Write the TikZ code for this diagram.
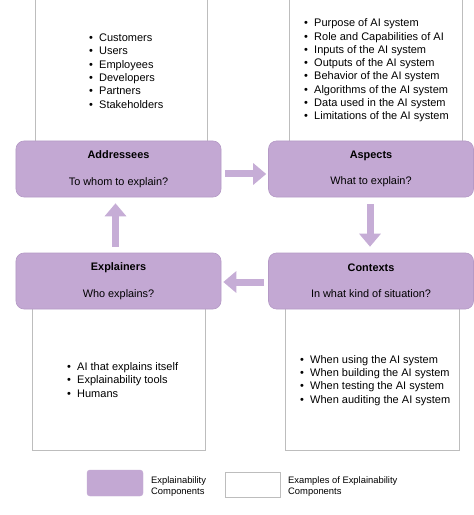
\documentclass[tikz,border=0pt]{standalone}
\usepackage{fontspec}
\setmainfont{Liberation Sans}
\usetikzlibrary{arrows.meta,calc}
\definecolor{compfill}{HTML}{C3A8D3}
\definecolor{compedge}{HTML}{B59AC6}
\definecolor{arrcol}{HTML}{C6ADD6}
\definecolor{exedge}{HTML}{BDBDBD}
\newcommand{\bl}[1]{\makebox[10bp][l]{\textbullet}#1}
\begin{document}
\begin{tikzpicture}[x=1bp,y=-1bp,
  compbox/.style={draw=compedge, fill=compfill, rounded corners=8bp, line width=0.6bp,
    minimum width=205bp, minimum height=56bp, inner sep=0pt, align=center,
    font=\fontsize{10.9bp}{13bp}\selectfont},
  exbox/.style={draw=exedge, fill=white, line width=0.9bp, inner sep=0pt},
  listtext/.style={anchor=west, inner sep=0pt, align=left,
    font=\fontsize{11bp}{13.3bp}\selectfont},
  legtext/.style={anchor=west, inner sep=0pt, align=left,
    font=\fontsize{9.4bp}{11.3bp}\selectfont},
  bigarrow/.style={draw=arrcol, line width=7bp, -{Triangle[length=13bp,width=21bp]}}]
\useasboundingbox (0,0) rectangle (474,515);
\fill[white] (0,0) rectangle (474,515);
% example boxes
\node[exbox, minimum width=172bp, minimum height=156bp] (exaddr) at (121,72) {};
\node[exbox, minimum width=173bp, minimum height=156bp] (exasp) at (375.5,72) {};
\node[exbox, minimum width=173bp, minimum height=160bp] (exexpl) at (118.5,370) {};
\node[exbox, minimum width=174bp, minimum height=160bp] (exctx) at (372,370) {};
% component boxes
\node[compbox] (addr) at (118.5,169) {\textbf{Addressees}\\[13.4bp]To whom to explain?};
\node[compbox] (asp) at (371,169) {\textbf{Aspects}\\[13.4bp]What to explain?};
\node[compbox] (expl) at (118.5,281) {\textbf{Explainers}\\[13.4bp]Who explains?};
\node[compbox] (ctx) at (371,281) {\textbf{Contexts}\\[13.4bp]In what kind of situation?};
% lists
\node[listtext] (addrlist) at (89,71) {\bl{Customers}\\\bl{Users}\\\bl{Employees}\\\bl{Developers}\\\bl{Partners}\\\bl{Stakeholders}};
\node[listtext] (asplist) at (304,70.5) {\bl{Purpose of AI system}\\\bl{Role and Capabilities of AI}\\\bl{Inputs of the AI system}\\\bl{Outputs of the AI system}\\\bl{Behavior of the AI system}\\\bl{Algorithms of the AI system}\\\bl{Data used in the AI system}\\\bl{Limitations of the AI system}};
\node[listtext] (expllist) at (67,380) {\bl{AI that explains itself}\\\bl{Explainability tools}\\\bl{Humans}};
\node[listtext] (ctxlist) at (300,380.5) {\bl{When using the AI system}\\\bl{When building the AI system}\\\bl{When testing the AI system}\\\bl{When auditing the AI system}};
% arrows
\draw[bigarrow, shorten <=4bp, shorten >=2bp] ($(addr.east)+(0,5)$) -- ($(asp.west)+(0,5)$);
\draw[bigarrow, shorten <=7bp, shorten >=6bp] ($(asp.south)+(-1,0)$) -- ($(ctx.north)+(-1,0)$);
\draw[bigarrow, shorten <=4bp, shorten >=2bp] ($(ctx.west)+(0,1)$) -- ($(expl.east)+(0,1)$);
\draw[bigarrow, shorten <=6bp, shorten >=6bp] ($(expl.north)+(-3,0)$) -- ($(addr.south)+(-3,0)$);
% legend
\node[draw=compfill, fill=compfill, rounded corners=3bp, minimum width=56bp, minimum height=26bp, inner sep=0pt] (legcomp) at (115,483) {};
\node[legtext] (legcomptext) at (151,486.5) {Explainability\\Components};
\node[exbox, line width=0.6bp, minimum width=55bp, minimum height=25bp] (legex) at (252.5,484.5) {};
\node[legtext] (legextext) at (288,486.5) {Examples of Explainability\\Components};
\end{tikzpicture}
\end{document}
